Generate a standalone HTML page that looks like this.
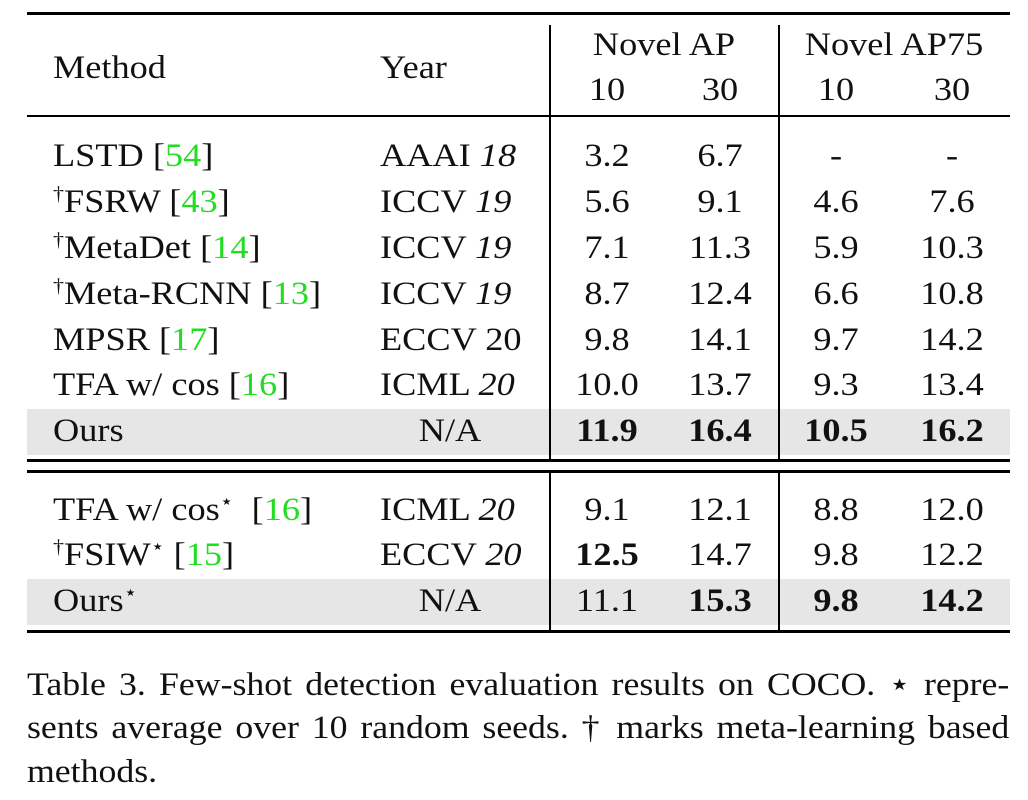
<!DOCTYPE html>
<html><head><meta charset="utf-8"><style>
body{margin:0;width:1028px;height:800px;background:#fff;font-family:"Liberation Serif",serif;color:#111;position:relative;overflow:hidden}
.t{position:absolute;font-size:33px;line-height:32px;white-space:nowrap;transform:scaleX(1.1);transform-origin:0 50%}
.c{transform:translateX(-50%) scaleX(1.1);transform-origin:50% 50%}
.h{position:absolute;left:27px;width:983px;background:#000}
.v{position:absolute;width:1.5px;background:#000}
.g{position:absolute;left:27px;width:983px;background:#e6e6e6}
.gr{color:#22dd22}
b{font-weight:bold}
sup{font-size:20px;vertical-align:12px;line-height:0}
.cap{position:absolute;left:27px;width:893px;font-size:32.5px;line-height:30px;white-space:nowrap;text-align:justify;text-align-last:justify;transform:scaleX(1.1);transform-origin:0 50%}
</style></head><body>
<div class="g" style="top:409px;height:46px"></div>
<div class="g" style="top:579px;height:46px"></div>
<div class="h" style="top:12px;height:3px"></div>
<div class="h" style="top:115px;height:2px"></div>
<div class="h" style="top:459px;height:3px"></div>
<div class="h" style="top:470px;height:3px"></div>
<div class="h" style="top:630px;height:3px"></div>
<div class="v" style="left:549px;top:25px;height:90px"></div>
<div class="v" style="left:778px;top:25px;height:90px"></div>
<div class="v" style="left:549px;top:117px;height:342px"></div>
<div class="v" style="left:778px;top:117px;height:342px"></div>
<div class="v" style="left:549px;top:473px;height:157px"></div>
<div class="v" style="left:778px;top:473px;height:157px"></div>

<div class="t" style="left:53px;top:52px">Method</div>
<div class="t" style="left:380px;top:52px">Year</div>
<div class="t c" style="left:664px;top:29px">Novel AP</div>
<div class="t c" style="left:894px;top:29px">Novel AP75</div>
<div class="t c" style="left:607px;top:74px">10</div>
<div class="t c" style="left:720px;top:74px">30</div>
<div class="t c" style="left:836px;top:74px">10</div>
<div class="t c" style="left:952px;top:74px">30</div>

<div class="t" style="left:53px;top:140px">LSTD [<span class="gr">54</span>]</div>
<div class="t" style="left:380px;top:140px">AAAI <i>18</i></div>
<div class="t c" style="left:607px;top:140px">3.2</div><div class="t c" style="left:720px;top:140px">6.7</div><div class="t c" style="left:836px;top:140px">-</div><div class="t c" style="left:952px;top:140px">-</div>

<div class="t" style="left:53px;top:186px"><sup>†</sup>FSRW [<span class="gr">43</span>]</div>
<div class="t" style="left:380px;top:186px">ICCV <i>19</i></div>
<div class="t c" style="left:607px;top:186px">5.6</div><div class="t c" style="left:720px;top:186px">9.1</div><div class="t c" style="left:836px;top:186px">4.6</div><div class="t c" style="left:952px;top:186px">7.6</div>

<div class="t" style="left:53px;top:232px"><sup>†</sup>MetaDet [<span class="gr">14</span>]</div>
<div class="t" style="left:380px;top:232px">ICCV <i>19</i></div>
<div class="t c" style="left:607px;top:232px">7.1</div><div class="t c" style="left:720px;top:232px">11.3</div><div class="t c" style="left:836px;top:232px">5.9</div><div class="t c" style="left:952px;top:232px">10.3</div>

<div class="t" style="left:53px;top:278px"><sup>†</sup>Meta-RCNN [<span class="gr">13</span>]</div>
<div class="t" style="left:380px;top:278px">ICCV <i>19</i></div>
<div class="t c" style="left:607px;top:278px">8.7</div><div class="t c" style="left:720px;top:278px">12.4</div><div class="t c" style="left:836px;top:278px">6.6</div><div class="t c" style="left:952px;top:278px">10.8</div>

<div class="t" style="left:53px;top:324px">MPSR [<span class="gr">17</span>]</div>
<div class="t" style="left:380px;top:324px">ECCV 20</div>
<div class="t c" style="left:607px;top:324px">9.8</div><div class="t c" style="left:720px;top:324px">14.1</div><div class="t c" style="left:836px;top:324px">9.7</div><div class="t c" style="left:952px;top:324px">14.2</div>

<div class="t" style="left:53px;top:369px">TFA w/ cos [<span class="gr">16</span>]</div>
<div class="t" style="left:380px;top:369px">ICML <i>20</i></div>
<div class="t c" style="left:607px;top:369px">10.0</div><div class="t c" style="left:720px;top:369px">13.7</div><div class="t c" style="left:836px;top:369px">9.3</div><div class="t c" style="left:952px;top:369px">13.4</div>

<div class="t" style="left:53px;top:415px">Ours</div>
<div class="t c" style="left:450px;top:415px">N/A</div>
<div class="t c" style="left:607px;top:415px"><b>11.9</b></div><div class="t c" style="left:720px;top:415px"><b>16.4</b></div><div class="t c" style="left:836px;top:415px"><b>10.5</b></div><div class="t c" style="left:952px;top:415px"><b>16.2</b></div>

<div class="t" style="left:53px;top:494px">TFA w/ cos<sup>⋆</sup>&nbsp; [<span class="gr">16</span>]</div>
<div class="t" style="left:380px;top:494px">ICML <i>20</i></div>
<div class="t c" style="left:607px;top:494px">9.1</div><div class="t c" style="left:720px;top:494px">12.1</div><div class="t c" style="left:836px;top:494px">8.8</div><div class="t c" style="left:952px;top:494px">12.0</div>

<div class="t" style="left:53px;top:539px"><sup>†</sup>FSIW<sup>⋆</sup> [<span class="gr">15</span>]</div>
<div class="t" style="left:380px;top:539px">ECCV <i>20</i></div>
<div class="t c" style="left:607px;top:539px"><b>12.5</b></div><div class="t c" style="left:720px;top:539px">14.7</div><div class="t c" style="left:836px;top:539px">9.8</div><div class="t c" style="left:952px;top:539px">12.2</div>

<div class="t" style="left:53px;top:585px">Ours<sup>⋆</sup></div>
<div class="t c" style="left:450px;top:585px">N/A</div>
<div class="t c" style="left:607px;top:585px">11.1</div><div class="t c" style="left:720px;top:585px"><b>15.3</b></div><div class="t c" style="left:836px;top:585px"><b>9.8</b></div><div class="t c" style="left:952px;top:585px"><b>14.2</b></div>

<div class="cap" style="top:670px">Table 3. Few-shot detection evaluation results on COCO. ⋆ repre-</div>
<div class="cap" style="top:713px">sents average over 10 random seeds. † marks meta-learning based</div>
<div class="cap" style="top:757px;text-align-last:left">methods.</div>
</body></html>
